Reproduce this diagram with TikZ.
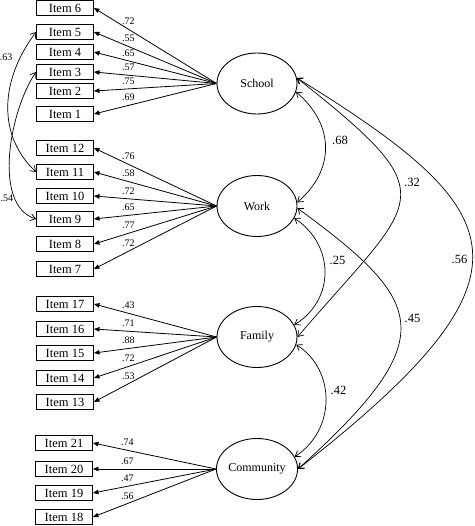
\documentclass[tikz,border=0pt]{standalone}
\usepackage{fontspec}
\setmainfont{Liberation Serif}
\usetikzlibrary{arrows.meta,shapes.geometric}
\begin{document}
\begin{tikzpicture}[x=1pt,y=-1pt,
  item/.style={draw,line width=0.9pt,minimum width=57pt,minimum height=15pt,inner sep=0pt,font=\fontsize{12.5}{13}\selectfont},
  latent/.style={draw,ellipse,line width=0.9pt,minimum width=80pt,minimum height=61pt,inner sep=0pt,font=\fontsize{12}{13}\selectfont},
  load/.style={-{Triangle[length=5.5pt,width=4.5pt]},line width=0.8pt},
  lab/.style={font=\fontsize{10}{11}\selectfont,inner sep=0pt},
  cov/.style={{Straight Barb[length=5pt,width=7pt]}-{Straight Barb[length=5pt,width=7pt]},line width=0.7pt},
  clab/.style={font=\fontsize{12.5}{13}\selectfont,inner sep=0pt}
]
\useasboundingbox[fill=white] (0,0) rectangle (474,526);

% indicators
\foreach \n/\y in {6/8,5/32,4/52,3/72,2/91,1/114,12/148,11/172,10/196,9/219,8/244,7/269,17/304,16/329,15/353,14/378,13/402}
  \node[item] (i\n) at (65,\y) {Item \n};
\foreach \n/\y in {21/443,20/469,19/493,18/517}
  \node[item] (i\n) at (64,\y) {Item \n};

% latent factors
\node[latent] (school) at (257,83.5) {School};
\node[latent] (work) at (257,206) {Work};
\node[latent] (family) at (257,337) {Family};
\node[latent] (community) at (257,469) {Community};

% loadings
\foreach \n/\v in {6/.72,5/.55,4/.65,3/.57,2/.75,1/.69}
  \draw[load] (school.west) -- node[lab,pos=0.72,above=4pt]{\v} (i\n.east);
\foreach \n/\v in {12/.76,11/.58,10/.72,9/.65,8/.77,7/.72}
  \draw[load] (work.west) -- node[lab,pos=0.72,above=4pt]{\v} (i\n.east);
\foreach \n/\v in {17/.43,16/.71,15/.88,14/.72,13/.53}
  \draw[load] (family.west) -- node[lab,pos=0.72,above=4pt]{\v} (i\n.east);
\foreach \n/\v in {21/.74,20/.67,19/.47,18/.56}
  \draw[load] (community.west) -- node[lab,pos=0.72,above=4pt]{\v} (i\n.east);

% error covariances
\draw[cov] (i5.west) .. controls (0,80) and (-3,135) .. (i11.west);
\draw[cov] (i3.west) .. controls (10,110) and (-8,205) .. (i9.west);
\node[lab] (l63) at (6,57) {.63};
\node[lab] (l54) at (7,198) {.54};

% factor correlations
\draw[cov] (school.-12) .. controls (335,125) and (335,170) .. (work.5);
\draw[cov] (school.8) .. controls (450,199) and (419,195) .. (family.0);
\draw[cov] (school.8) .. controls (512,211) and (549,273) .. (community.0);
\draw[cov] (work.-18) .. controls (335,245) and (335,300) .. (family.18);
\draw[cov] (work.-3) .. controls (427,303) and (443,338) .. (community.0);
\draw[cov] (family.-11) .. controls (336,370) and (336,430) .. (community.18);

\node[clab] (l68) at (340,140) {.68};
\node[clab] (l32) at (412,182) {.32};
\node[clab] (l56) at (459.5,259) {.56};
\node[clab] (l25) at (337.5,260) {.25};
\node[clab] (l45) at (412.5,318) {.45};
\node[clab] (l42) at (338.5,390) {.42};
\end{tikzpicture}
\end{document}
